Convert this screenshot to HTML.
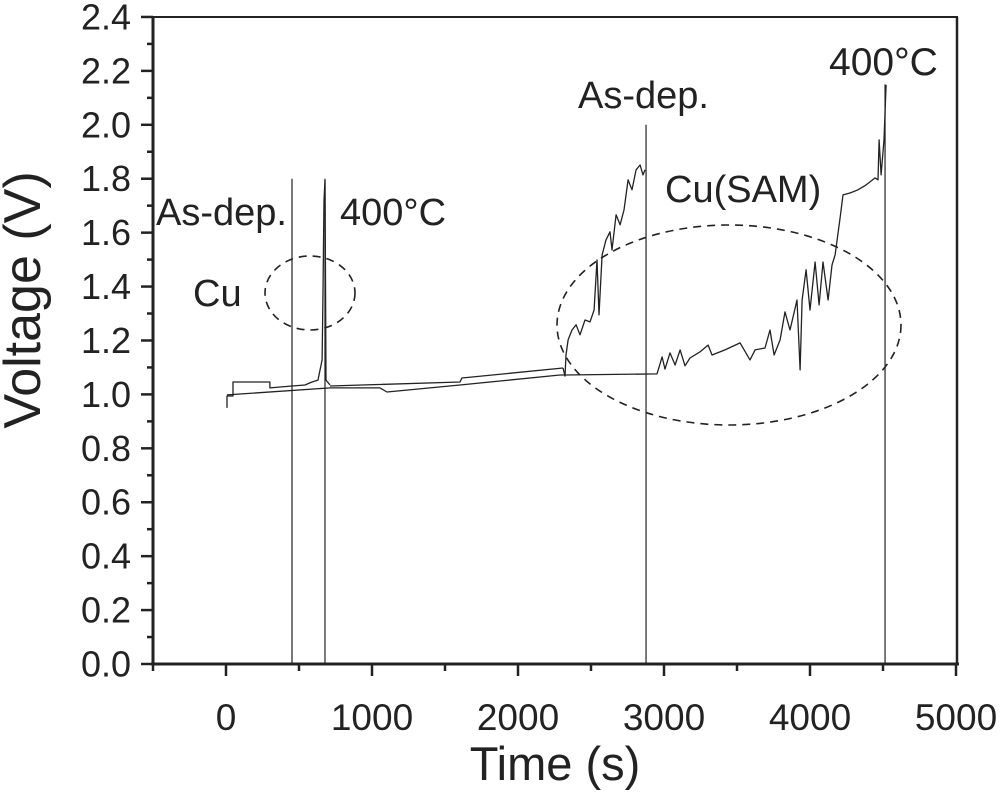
<!DOCTYPE html>
<html><head><meta charset="utf-8"><style>
body{margin:0;background:#fff}
svg text{font-family:"Liberation Sans",Arial,sans-serif;fill:#222}
</style></head><body>
<svg id="chart" width="1000" height="796" viewBox="0 0 1000 796" xmlns="http://www.w3.org/2000/svg">
<g id="axes"></g>
<g id="marks"></g>
<ellipse cx="310" cy="293" rx="45" ry="37" fill="none" stroke="#222" stroke-width="1.6" stroke-dasharray="8,6"/>
<ellipse cx="729" cy="325" rx="172" ry="100" fill="none" stroke="#222" stroke-width="1.6" stroke-dasharray="8,6"/>
<text x="156" y="225" font-size="38">As-dep.</text>
<text x="340" y="225" font-size="38">400°C</text>
<text x="193" y="306" font-size="38">Cu</text>
<text x="578" y="108" font-size="38">As-dep.</text>
<text x="665" y="202" font-size="38">Cu(SAM)</text>
<text x="829" y="75" font-size="39">400°C</text>
<text transform="translate(40,300) rotate(-90)" text-anchor="middle" font-size="52">Voltage (V)</text>
<text x="555" y="780" text-anchor="middle" font-size="47">Time (s)</text>
</svg>
<script>
const xTicks=[0,1000,2000,3000,4000,5000];
const yTicks=[0,0.2,0.4,0.6,0.8,1.0,1.2,1.4,1.6,1.8,2.0,2.2,2.4];
const yTickLabels=["0.0","0.2","0.4","0.6","0.8","1.0","1.2","1.4","1.6","1.8","2.0","2.2","2.4"];
const vlineT=[452,678,2877,4514];
const vlineV=[1.8,1.8,2.0,2.15];
const cuT=[7,7,48,48,301,301,452,541,589,630,644,658,664,671,678,685,712];
const cuV=[0.95,0.994,0.994,1.046,1.046,1.024,1.031,1.035,1.046,1.053,1.09,1.128,1.35,1.72,1.795,1.053,1.035];
const baseLowT=[7,712,1055,1103,1603,2288,2322];
const baseLowV=[0.998,1.024,1.024,1.009,1.035,1.072,1.072];
const baseUpT=[712,1603,1616,2308];
const baseUpV=[1.031,1.046,1.061,1.098];
const samAsdepT=[2308,2322,2329,2343,2370,2398,2425,2459,2493,2521,2541,2555,2576,2603,2630,2644,2672,2699,2726,2754,2781,2809,2836,2856,2870];
const samAsdepV=[1.098,1.068,1.146,1.202,1.239,1.258,1.221,1.276,1.269,1.313,1.499,1.295,1.517,1.573,1.603,1.536,1.666,1.629,1.684,1.796,1.759,1.833,1.851,1.814,1.833];
const sam400T=[2322,2952,2987,3007,3041,3076,3110,3144,3178,3247,3302,3329,3418,3521,3589,3624,3692,3726,3754,3795,3829,3863,3911,3932,3946,3973,4000,4035,4062,4089,4124,4151,4172,4206,4226,4274,4329,4384,4446,4466,4473,4487,4507,4521];
const sam400V=[1.072,1.076,1.139,1.094,1.154,1.109,1.165,1.106,1.135,1.158,1.183,1.146,1.165,1.191,1.128,1.165,1.172,1.239,1.146,1.202,1.306,1.239,1.350,1.091,1.350,1.462,1.313,1.491,1.332,1.491,1.350,1.480,1.517,1.655,1.740,1.747,1.759,1.777,1.803,1.796,1.944,1.814,1.944,2.148];

const X=t=>226+(t)*0.146;
const Y=v=>664-v*269.6;
const NS="http://www.w3.org/2000/svg";
const axes=document.getElementById('axes'), marks=document.getElementById('marks');
function mk(tag,attrs,parent){const e=document.createElementNS(NS,tag);for(const k in attrs)e.setAttribute(k,attrs[k]);parent.appendChild(e);return e;}
let e;
const yTop=Y(2.4);
e=mk('line',{x1:153,y1:yTop,x2:153,y2:664,stroke:'#222','stroke-width':3},axes);


e=mk('line',{x1:151,y1:664,x2:959,y2:664,stroke:'#222','stroke-width':3},axes);


e=mk('line',{x1:141,y1:yTop,x2:958,y2:yTop,stroke:'#222','stroke-width':2},axes);


e=mk('line',{x1:957,y1:yTop,x2:957,y2:664,stroke:'#222','stroke-width':2.5},axes);


for(let i=0;i<yTicks.length;i++){
  const y=Y(yTicks[i]);
  e=mk('line',{x1:141,y1:y,x2:153,y2:y,stroke:'#222','stroke-width':2.5},axes);
  
  
  if(i<yTicks.length-1){
    const ym=Y(yTicks[i]+0.1);
    e=mk('line',{x1:147,y1:ym,x2:153,y2:ym,stroke:'#222','stroke-width':2.5},axes);
    
    
  }
  e=mk('text',{x:131,y:y+12.5,'text-anchor':'end','font-size':36},axes);
  e.textContent=yTickLabels[i];
  
  
}
for(let t=-500;t<=5000;t+=500){
  const major=xTicks.indexOf(t)>=0;
  const x=X(t);
  e=mk('line',{x1:x,y1:664,x2:x,y2:major?676:671,stroke:'#222','stroke-width':2.5},axes);
  
  
}
for(const t of xTicks){
  e=mk('text',{x:X(t),y:730,'text-anchor':'middle','font-size':37},axes);
  e.textContent=String(t);
  
  
}
for(let i=0;i<vlineT.length;i++){
  e=mk('line',{x1:X(vlineT[i]),y1:Y(vlineV[i]),x2:X(vlineT[i]),y2:664,stroke:'#222','stroke-width':1.2},marks);
  
  
}
function poly(ts,vs,name){
  const p=ts.map((t,i)=>X(t).toFixed(1)+','+Y(vs[i]).toFixed(1)).join(' ');
  const el=mk('polyline',{points:p,fill:'none',stroke:'#222','stroke-width':1.3,'stroke-linejoin':'round'},marks);
  
  
}
poly(cuT,cuV,'cu-trace');
poly(baseLowT,baseLowV,'baseline-lower-trace');
poly(baseUpT,baseUpV,'baseline-upper-trace');
poly(samAsdepT,samAsdepV,'sam-asdep-trace');
poly(sam400T,sam400V,'sam-400c-trace');
</script>
</body></html>
